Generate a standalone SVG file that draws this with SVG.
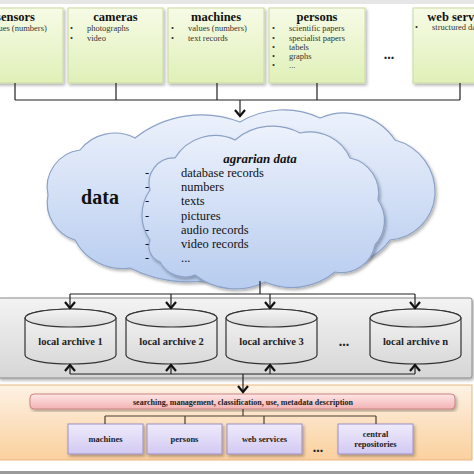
<svg xmlns="http://www.w3.org/2000/svg" width="474" height="474" viewBox="0 0 474 474">
<defs>
<linearGradient id="gGreen" x1="0" y1="0" x2="0" y2="1"><stop offset="0" stop-color="#f6fbe6"/><stop offset="1" stop-color="#e0f0b8"/></linearGradient>
<linearGradient id="gCloud" x1="0" y1="0" x2="0" y2="1"><stop offset="0" stop-color="#edf2fc"/><stop offset="1" stop-color="#b7ccef"/></linearGradient>
<linearGradient id="gGray" x1="0" y1="0" x2="0" y2="1"><stop offset="0" stop-color="#f3f3f3"/><stop offset="1" stop-color="#d6d6d6"/></linearGradient>
<linearGradient id="gCyl" x1="0" y1="0" x2="0" y2="1"><stop offset="0" stop-color="#f5f5f5"/><stop offset="1" stop-color="#d9d9d9"/></linearGradient>
<linearGradient id="gOrange" x1="0" y1="0" x2="0" y2="1"><stop offset="0" stop-color="#fdf2e4"/><stop offset="1" stop-color="#fbd09e"/></linearGradient>
<linearGradient id="gPink" x1="0" y1="0" x2="0" y2="1"><stop offset="0" stop-color="#fde6e6"/><stop offset="1" stop-color="#f4b3b3"/></linearGradient>
<linearGradient id="gPurple" x1="0" y1="0" x2="0" y2="1"><stop offset="0" stop-color="#efebfc"/><stop offset="1" stop-color="#d2c9f2"/></linearGradient>
<filter id="sh" x="-10%" y="-10%" width="125%" height="130%"><feDropShadow dx="1.5" dy="2" stdDeviation="1.5" flood-color="#000" flood-opacity="0.3"/></filter>
<marker id="arr" viewBox="-8 -7 10 14" markerWidth="10" markerHeight="14" refX="0" refY="0" orient="auto" markerUnits="userSpaceOnUse">
<path d="M-6,-5 L0,0 L-6,5" fill="none" stroke="#111" stroke-width="2.2"/>
</marker>
<style>
.box{fill:url(#gGreen);stroke:#c9d9a2;stroke-width:1}
.hd{font-family:"Liberation Serif",serif;font-weight:bold;font-size:12.5px;fill:#111;text-anchor:middle}
.it{font-family:"Liberation Serif",serif;font-size:8.5px;fill:#333}
.cloud{fill:url(#gCloud);stroke:#8ba1c6;stroke-width:1.2}
.ct{font-family:"Liberation Serif",serif;font-size:12.5px;fill:#111}
.cyl{fill:url(#gCyl);stroke:#333;stroke-width:1.2}
.al{font-family:"Liberation Serif",serif;font-weight:bold;font-size:10.5px;fill:#222;text-anchor:middle}
.ln{fill:none;stroke:#222;stroke-width:1.2}
.lnb{fill:none;stroke:#4a3f35;stroke-width:1.2}
.pb{fill:url(#gPurple);stroke:#9c90c8;stroke-width:1}
.pt{font-family:"Liberation Serif",serif;font-weight:bold;font-size:8.5px;fill:#222;text-anchor:middle}
.dots{font-family:"Liberation Serif",serif;font-weight:bold;font-size:14px;fill:#222;text-anchor:middle}
</style>
</defs>
<rect x="0" y="0" width="474" height="474" fill="#fff"/>
<rect x="0" y="0" width="474" height="4" fill="#e6e6e6"/>
<rect x="0" y="471" width="474" height="3" fill="#9a9a9a"/>

<g id="sensors">
<rect class="box" x="-32" y="8" width="95" height="75" filter="url(#sh)"/>
<text class="hd" x="15.5" y="20.5">sensors</text>
<text class="it" x="-16" y="31">•</text>
<text class="it" x="-12" y="31">values (numbers)</text>
</g>
<g id="cameras">
<rect class="box" x="68" y="8" width="95" height="75" filter="url(#sh)"/>
<text class="hd" x="115.5" y="20.5">cameras</text>
<text class="it" x="70" y="31">•</text><text class="it" x="87" y="31">photographs</text>
<text class="it" x="70" y="41">•</text><text class="it" x="87" y="41">video</text>
</g>
<g id="machines">
<rect class="box" x="168" y="8" width="96" height="75" filter="url(#sh)"/>
<text class="hd" x="216" y="20.5">machines</text>
<text class="it" x="171" y="31">•</text><text class="it" x="188" y="31">values (numbers)</text>
<text class="it" x="171" y="41">•</text><text class="it" x="188" y="41">text records</text>
</g>
<g id="persons">
<rect class="box" x="269" y="8" width="96" height="75" filter="url(#sh)"/>
<text class="hd" x="317" y="20.5">persons</text>
<text class="it" x="272" y="31">•</text><text class="it" x="289" y="31">scientific papers</text>
<text class="it" x="272" y="41">•</text><text class="it" x="289" y="41">specialist papers</text>
<text class="it" x="272" y="50">•</text><text class="it" x="289" y="50">tabels</text>
<text class="it" x="272" y="59">•</text><text class="it" x="289" y="59">graphs</text>
<text class="it" x="272" y="68">•</text><text class="it" x="289" y="68">...</text>
</g>
<text class="dots" x="389" y="59">...</text>
<g id="web_services">
<rect class="box" x="413" y="8" width="95" height="75" filter="url(#sh)"/>
<text class="hd" x="460.5" y="20.5">web services</text>
<text class="it" x="415" y="30">•</text><text class="it" x="432" y="30">structured data</text>
</g>

<g id="data_cloud">
<path class="cloud" filter="url(#sh)" d="M48,195 A37.5,37.5 0 0 1 80,150 A44,44 0 0 1 135,138 A107,107 0 0 1 240,122 A85,85 0 0 1 320,118 A61,61 0 0 1 395,140 A54,54 0 0 1 435,195 A49,49 0 0 1 390,240 A56,56 0 0 1 330,262 A132,132 0 0 1 230,275 A130,130 0 0 1 130,268 A53,53 0 0 1 75,240 A39,39 0 0 1 48,195 Z"/>
<text x="100" y="204" font-family="Liberation Serif, serif" font-weight="bold" font-size="20" fill="#111" text-anchor="middle">data</text>
</g>
<g id="agrarian_cloud">
<path class="cloud" filter="url(#sh)" d="M150,240 A43,43 0 0 1 150,190 A25,25 0 0 1 175,158 A47,47 0 0 1 235,140 A58,58 0 0 1 300,133 A44,44 0 0 1 350,158 A36,36 0 0 1 378,200 A36,36 0 0 1 375,245 A34,34 0 0 1 335,272 A68,68 0 0 1 265,282 A66,66 0 0 1 195,275 A28,28 0 0 1 160,262 A17,17 0 0 1 150,240 Z"/>
<text x="260" y="163" font-family="Liberation Serif, serif" font-weight="bold" font-style="italic" font-size="13" fill="#111" text-anchor="middle">agrarian data</text>
<g class="ct">
<text x="145" y="177">-</text><text x="181" y="177">database records</text>
<text x="145" y="191">-</text><text x="181" y="191">numbers</text>
<text x="145" y="205">-</text><text x="181" y="205">texts</text>
<text x="145" y="220">-</text><text x="181" y="220">pictures</text>
<text x="145" y="234">-</text><text x="181" y="234">audio records</text>
<text x="145" y="248">-</text><text x="181" y="248">video records</text>
<text x="145" y="262">-</text><text x="181" y="262">...</text>
</g>
</g>

<g id="archive_panel">
<rect x="-2" y="298" width="474" height="80" rx="2" fill="url(#gGray)" stroke="#8a8a8a" stroke-width="1" filter="url(#sh)"/>
</g>
<g id="archive1">
<path class="cyl" d="M25,318 V355 A45.5,9 0 0 0 116,355 V318 A45.5,9 0 0 0 25,318 Z"/>
<ellipse class="cyl" cx="70.5" cy="318" rx="45.5" ry="9"/>
<text class="al" x="70.5" y="345">local archive 1</text>
</g>
<g id="archive2">
<path class="cyl" d="M126,318 V355 A45.5,9 0 0 0 217,355 V318 A45.5,9 0 0 0 126,318 Z"/>
<ellipse class="cyl" cx="171.5" cy="318" rx="45.5" ry="9"/>
<text class="al" x="171.5" y="345">local archive 2</text>
</g>
<g id="archive3">
<path class="cyl" d="M226,318 V355 A45.5,9 0 0 0 317,355 V318 A45.5,9 0 0 0 226,318 Z"/>
<ellipse class="cyl" cx="271.5" cy="318" rx="45.5" ry="9"/>
<text class="al" x="271.5" y="345">local archive 3</text>
</g>
<text class="dots" x="344" y="346">...</text>
<g id="archiven">
<path class="cyl" d="M370,318 V355 A45.5,9 0 0 0 461,355 V318 A45.5,9 0 0 0 370,318 Z"/>
<ellipse class="cyl" cx="415.5" cy="318" rx="45.5" ry="9"/>
<text class="al" x="415.5" y="345">local archive n</text>
</g>

<g id="access_panel">
<rect x="-2" y="385" width="474" height="75" fill="url(#gOrange)" stroke="#e9b57f" stroke-width="1"/>
</g>
<g id="services_bar">
<rect x="30" y="394" width="425" height="15" rx="4" fill="url(#gPink)" stroke="#c98484" stroke-width="1" filter="url(#sh)"/>
<text x="243" y="404.5" font-family="Liberation Serif, serif" font-weight="bold" font-size="8" fill="#222" text-anchor="middle">searching, management, classification, use, metadata description</text>
</g>
<g id="u_machines"><rect class="pb" x="68" y="424" width="75" height="30" filter="url(#sh)"/><text class="pt" x="105.5" y="442">machines</text></g>
<g id="u_persons"><rect class="pb" x="147" y="424" width="75" height="30" filter="url(#sh)"/><text class="pt" x="184.5" y="442">persons</text></g>
<g id="u_web"><rect class="pb" x="227" y="424" width="75" height="30" filter="url(#sh)"/><text class="pt" x="264.5" y="442">web services</text></g>
<text class="dots" x="318" y="452">...</text>
<g id="u_central"><rect class="pb" x="338" y="424" width="75" height="30" filter="url(#sh)"/><text class="pt" x="375.5" y="437">central</text><text class="pt" x="375.5" y="447">repositories</text></g>

<g id="connectors">
<path class="ln" d="M15,83 V100 M116,83 V100 M217,83 V100 M317,83 V100 M460,83 V100 M15,100 H460"/>
<path class="ln" d="M240,100 V116" marker-end="url(#arr)"/>
<path class="ln" d="M260,281 V294 M70,294 H415"/>
<path class="ln" d="M70,294 V308" marker-end="url(#arr)"/>
<path class="ln" d="M171,294 V308" marker-end="url(#arr)"/>
<path class="ln" d="M270,294 V308" marker-end="url(#arr)"/>
<path class="ln" d="M415,294 V308" marker-end="url(#arr)"/>
<path class="ln" d="M70,374 H415"/>
<path class="ln" d="M70,374 V365" marker-end="url(#arr)"/>
<path class="ln" d="M171,374 V365" marker-end="url(#arr)"/>
<path class="ln" d="M270,374 V365" marker-end="url(#arr)"/>
<path class="ln" d="M415,374 V365" marker-end="url(#arr)"/>
<path class="ln" d="M243,374 V392" marker-end="url(#arr)"/>
<path class="lnb" d="M243,409 V416 M105,416 H376 M105,416 V424 M185,416 V424 M264,416 V424 M376,416 V424"/>
</g>
</svg>
